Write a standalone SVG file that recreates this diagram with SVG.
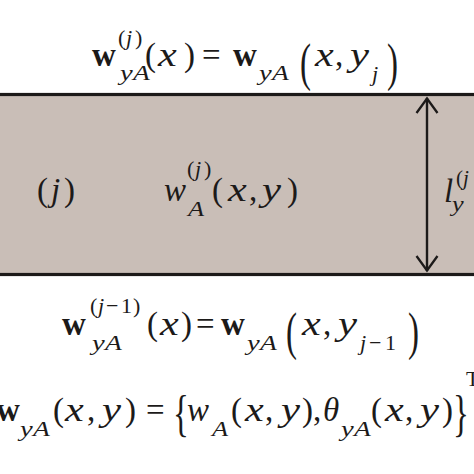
<svg xmlns="http://www.w3.org/2000/svg" width="474" height="474" viewBox="0 0 474 474">
<defs>
<style>
text{font-family:"Liberation Serif","Times New Roman",serif;fill:#1c1a19;font-size:33px}
.i{font-style:italic}
.b{font-weight:bold}
.s{font-size:22px}
.t{font-size:21px}
.ah{fill:none;stroke:#1c1a19;stroke-width:2.3}
</style>
</defs>
<rect width="474" height="474" fill="#ffffff"/>
<g id="strip">
<rect x="-5" y="94.5" width="484" height="180" fill="#c9beb7" stroke="#1c1a19" stroke-width="3.2"/>
</g>
<g id="connectors">
<line x1="427" y1="98" x2="427" y2="271" stroke="#1c1a19" stroke-width="2.4"/>
<polyline class="ah" points="416.5,113 427,98.5 437.5,113"/>
<polyline class="ah" points="416.5,256 427,270.5 437.5,256"/>
</g>
<g id="top-label">
<text><tspan class="b" x="92" y="66">w</tspan><tspan class="s" x="118" y="45">(</tspan><tspan class="s i" x="126" y="45">j</tspan><tspan class="s" x="135" y="45">)</tspan><tspan x="145" y="66">(</tspan><tspan x="184" y="66">)</tspan><tspan x="202" y="66">=</tspan><tspan class="b" x="233" y="66">w</tspan><tspan x="335" y="66">,</tspan><tspan class="s i" x="372" y="81">j</tspan></text>
<text class="s i" transform="translate(120,80) scale(1.3,1)">y</text>
<text class="s i" transform="translate(133,80) scale(1.25,1)">A</text>
<text class="i" transform="translate(158,66) scale(1.28,1)">x</text>
<text class="s i" transform="translate(259,80) scale(1.3,1)">y</text>
<text class="s i" transform="translate(272,80) scale(1.25,1)">A</text>
<text class="i" transform="translate(315,66) scale(1.28,1)">x</text>
<text class="i" transform="translate(350,66) scale(1.3,1)">y</text>
<text transform="translate(300,80) scale(1,1.6)">(</text>
<text transform="translate(387,80) scale(1,1.6)">)</text>
</g>
<g id="strip-labels">
<text><tspan x="37" y="201">(</tspan><tspan class="i" x="51" y="201">j</tspan><tspan x="64" y="201">)</tspan></text>
<text><tspan class="i" x="164" y="201">w</tspan><tspan class="s" x="187" y="176">(</tspan><tspan class="s i" x="195" y="176">j</tspan><tspan class="s" x="204" y="176">)</tspan><tspan x="212" y="201">(</tspan><tspan x="249" y="201">,</tspan><tspan x="287" y="201">)</tspan></text>
<text class="s i" transform="translate(188,216) scale(1.2,1)">A</text>
<text class="i" transform="translate(228,201) scale(1.28,1)">x</text>
<text class="i" transform="translate(262,201) scale(1.3,1)">y</text>
<text><tspan class="i" x="444" y="202">l</tspan><tspan class="t" x="456" y="185">(</tspan><tspan class="t i" x="463" y="185">j</tspan></text>
<text class="t i" transform="translate(452,211) scale(1.25,1)">y</text>
</g>
<g id="bottom-label">
<text><tspan class="b" x="62" y="335">w</tspan><tspan class="s" x="90" y="313">(</tspan><tspan class="s i" x="98" y="313">j</tspan><tspan class="s" x="106" y="313">−</tspan><tspan class="s" x="121" y="313">1</tspan><tspan class="s" x="133" y="313">)</tspan><tspan x="147" y="335">(</tspan><tspan x="181" y="335">)</tspan><tspan x="196" y="335">=</tspan><tspan class="b" x="221" y="335">w</tspan><tspan x="323" y="335">,</tspan><tspan class="s i" x="360" y="350">j</tspan><tspan class="s" x="369" y="350">−</tspan><tspan class="s" x="385" y="350">1</tspan></text>
<text class="s i" transform="translate(92,350) scale(1.3,1)">y</text>
<text class="s i" transform="translate(105,350) scale(1.25,1)">A</text>
<text class="i" transform="translate(160,335) scale(1.28,1)">x</text>
<text class="s i" transform="translate(247,350) scale(1.3,1)">y</text>
<text class="s i" transform="translate(260,350) scale(1.25,1)">A</text>
<text class="i" transform="translate(302,335) scale(1.28,1)">x</text>
<text class="i" transform="translate(338,335) scale(1.3,1)">y</text>
<text transform="translate(286,349) scale(1,1.6)">(</text>
<text transform="translate(408,349) scale(1,1.6)">)</text>
</g>
<g id="definition">
<text><tspan class="b" x="-4" y="421">w</tspan><tspan x="53" y="421">(</tspan><tspan x="87" y="421">,</tspan><tspan x="125" y="421">)</tspan><tspan x="146" y="421">=</tspan><tspan class="i" x="187" y="421">w</tspan><tspan x="231" y="421">(</tspan><tspan x="265" y="421">,</tspan><tspan x="302" y="421">)</tspan><tspan x="313" y="421">,</tspan><tspan class="i" x="323" y="421">θ</tspan><tspan x="371" y="421">(</tspan><tspan x="405" y="421">,</tspan><tspan x="442" y="421">)</tspan><tspan class="s" x="466" y="386">T</tspan></text>
<text class="s i" transform="translate(20,436) scale(1.3,1)">y</text>
<text class="s i" transform="translate(33,436) scale(1.25,1)">A</text>
<text class="i" transform="translate(65,421) scale(1.28,1)">x</text>
<text class="i" transform="translate(102,421) scale(1.3,1)">y</text>
<text class="s i" transform="translate(212,436) scale(1.2,1)">A</text>
<text class="i" transform="translate(245,421) scale(1.28,1)">x</text>
<text class="i" transform="translate(281,421) scale(1.3,1)">y</text>
<text class="s i" transform="translate(341,436) scale(1.3,1)">y</text>
<text class="s i" transform="translate(354,436) scale(1.25,1)">A</text>
<text class="i" transform="translate(385,421) scale(1.28,1)">x</text>
<text class="i" transform="translate(420,421) scale(1.3,1)">y</text>
<text transform="translate(173,430) scale(1,1.55)">{</text>
<text transform="translate(453,430) scale(1,1.55)">}</text>
</g>
</svg>
